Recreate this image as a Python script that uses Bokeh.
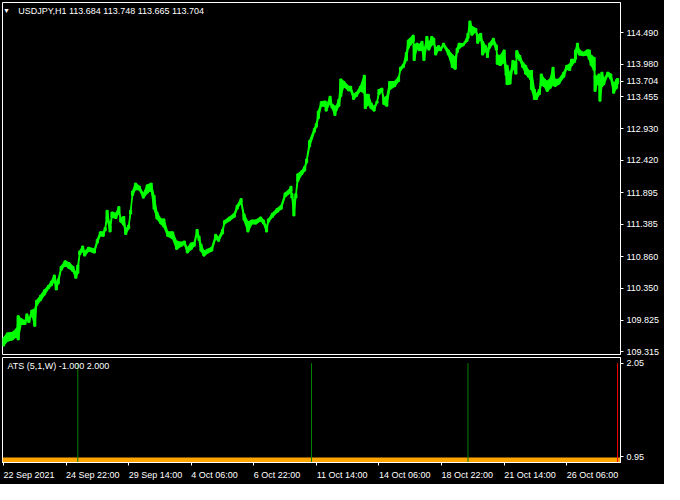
from bokeh.plotting import figure
from bokeh.layouts import column
from bokeh.models import FixedTicker, Label, ColumnDataSource, Range1d, LinearAxis
from bokeh.embed import file_html
from bokeh.resources import INLINE

# ---------------- data ----------------
symbol_title = "USDJPY,H1  113.684 113.748 113.665 113.704"
last_close = 113.704
indicator_title = "ATS (5,1,W) -1.000 2.000"

bar = [0, 4, 9, 14, 15, 18, 22, 24, 26, 29, 32, 34, 38, 42, 46, 49, 52, 54, 56, 59,
       63, 67, 71, 74, 76, 78, 81, 83, 87, 93, 96, 99, 102, 104, 106, 109, 111, 115, 118, 120,
       123, 125, 128, 130, 132, 135, 139, 143, 147, 151, 154, 157, 161, 164, 168, 173, 177, 182, 185, 188,
       192, 195, 198, 200, 202, 205, 209, 213, 217, 220, 224, 226, 231, 236, 239, 243, 246, 250, 254, 258,
       263, 266, 269, 271, 275, 280, 284, 288, 292, 294, 295, 297, 299, 301, 305, 308, 310, 313, 318, 320,
       322, 325, 329, 330, 334, 336, 339, 340, 343, 345, 348, 353, 355, 358, 361, 365, 369, 370, 373, 376,
       379, 382, 384, 387, 389, 392, 395, 400, 404, 406, 409, 412, 414, 416, 419, 420, 423, 425, 428, 430,
       433, 435, 438, 440, 442, 445, 447, 450, 455, 459, 462, 464, 466, 470, 474, 475, 477, 479, 483, 485,
       488, 490, 493, 495, 497, 501, 504, 505, 508, 512, 514, 515, 518, 521, 524, 525, 528, 531, 534, 537,
       539, 540, 543, 545, 548, 550, 553, 556, 559, 562, 564, 568, 573, 576, 579, 581, 584, 585, 587, 589,
       593, 597, 599, 601, 604, 605, 607, 609, 610, 612, 614, 618, 621, 624, 627, 628]

high = [109.54, 109.62, 109.63, 109.70, 109.90, 109.85, 109.82, 109.93, 109.85, 109.99,
        110.01, 110.15, 110.23, 110.32, 110.39, 110.46, 110.56, 110.43, 110.50, 110.70,
        110.79, 110.76, 110.70, 110.59, 110.72, 110.95, 111.03, 110.94, 111.01, 110.98,
        111.14, 111.26, 111.26, 111.33, 111.61, 111.36, 111.58, 111.56, 111.67, 111.48,
        111.51, 111.30, 111.37, 111.61, 111.92, 112.05, 112.00, 111.88, 112.02, 112.05,
        111.85, 111.58, 111.47, 111.47, 111.26, 111.26, 111.11, 111.09, 111.11, 111.00,
        111.08, 111.09, 111.30, 111.19, 111.06, 110.95, 110.98, 111.01, 111.22, 111.17,
        111.30, 111.44, 111.50, 111.56, 111.69, 111.80, 111.55, 111.42, 111.45, 111.45,
        111.50, 111.45, 111.34, 111.47, 111.56, 111.64, 111.69, 111.89, 111.94, 112.00,
        111.88, 111.74, 111.88, 112.20, 112.25, 112.32, 112.44, 112.74, 112.94, 113.02,
        113.22, 113.37, 113.38, 113.29, 113.46, 113.33, 113.30, 113.29, 113.41, 113.74,
        113.70, 113.62, 113.62, 113.49, 113.52, 113.62, 113.80, 113.49, 113.49, 113.35,
        113.29, 113.38, 113.57, 113.59, 113.43, 113.46, 113.70, 113.70, 113.77, 113.93,
        113.98, 114.17, 114.37, 114.40, 114.45, 114.29, 114.32, 114.29, 114.35, 114.20,
        114.43, 114.32, 114.43, 114.40, 114.24, 114.28, 114.24, 114.32, 114.21, 114.13,
        114.09, 114.24, 114.32, 114.31, 114.40, 114.48, 114.68, 114.59, 114.56, 114.45,
        114.48, 114.35, 114.28, 114.21, 114.32, 114.40, 114.29, 114.13, 114.12, 114.21,
        113.96, 113.96, 113.82, 114.04, 114.01, 114.20, 114.12, 114.01, 113.96, 113.88,
        113.82, 113.88, 113.57, 113.49, 113.57, 113.82, 113.74, 113.70, 113.74, 113.93,
        113.73, 113.74, 113.85, 113.96, 113.98, 114.06, 114.06, 114.21, 114.32, 114.21,
        114.17, 114.21, 114.21, 114.12, 114.09, 113.80, 113.77, 113.82, 113.65, 113.85,
        113.74, 113.85, 113.82, 113.66, 113.73, 113.748]

low = [109.41, 109.49, 109.51, 109.57, 109.51, 109.76, 109.76, 109.85, 109.79, 109.92,
       109.73, 110.07, 110.15, 110.24, 110.34, 110.39, 110.46, 110.32, 110.42, 110.64,
       110.72, 110.67, 110.62, 110.51, 110.59, 110.89, 110.95, 110.87, 110.95, 110.92,
       111.08, 111.20, 111.19, 111.28, 111.47, 111.26, 111.50, 111.48, 111.58, 111.42,
       111.37, 111.22, 111.31, 111.55, 111.85, 111.95, 111.94, 111.81, 111.89, 111.94,
       111.63, 111.47, 111.39, 111.34, 111.19, 111.15, 110.98, 111.03, 111.06, 110.92,
       110.98, 111.03, 111.23, 111.12, 110.95, 110.87, 110.92, 110.95, 111.15, 111.11,
       111.23, 111.39, 111.44, 111.50, 111.63, 111.74, 111.45, 111.26, 111.39, 111.39,
       111.44, 111.39, 111.26, 111.42, 111.50, 111.58, 111.63, 111.83, 111.88, 111.92,
       111.81, 111.52, 111.81, 112.08, 112.19, 112.25, 112.38, 112.64, 112.88, 112.96,
       113.10, 113.30, 113.30, 113.22, 113.35, 113.27, 113.15, 113.22, 113.30, 113.46,
       113.62, 113.55, 113.55, 113.41, 113.46, 113.55, 113.51, 113.26, 113.33, 113.26,
       113.22, 113.35, 113.49, 113.54, 113.33, 113.30, 113.57, 113.62, 113.70, 113.88,
       113.93, 114.04, 114.24, 114.29, 114.35, 114.04, 114.24, 114.20, 114.21, 114.04,
       114.29, 114.21, 114.29, 114.32, 114.13, 114.21, 114.20, 114.28, 114.13, 113.93,
       113.90, 114.17, 114.24, 114.28, 114.35, 114.40, 114.56, 114.45, 114.51, 114.32,
       114.40, 114.13, 114.20, 114.09, 114.24, 114.32, 114.21, 113.98, 113.96, 114.01,
       113.80, 113.65, 113.66, 113.93, 113.82, 114.09, 114.04, 113.93, 113.82, 113.77,
       113.73, 113.57, 113.41, 113.41, 113.49, 113.65, 113.62, 113.54, 113.59, 113.65,
       113.62, 113.66, 113.77, 113.90, 113.88, 113.96, 114.01, 114.06, 114.21, 114.13,
       114.12, 114.13, 114.06, 113.96, 113.88, 113.54, 113.65, 113.66, 113.38, 113.62,
       113.65, 113.80, 113.74, 113.51, 113.59, 113.665]

price_ticks = [114.490, 113.980, 113.455, 112.930, 112.420, 111.895,
               111.385, 110.860, 110.350, 109.825, 109.315]
price_tick_labels = ["114.490", "113.980", "113.455", "112.930", "112.420", "111.895",
                     "111.385", "110.860", "110.350", "109.825", "109.315"]

time_tick_bars = [0, 64, 128, 192, 256, 320, 384, 448, 512, 576]
time_tick_labels = ["22 Sep 2021", "24 Sep 22:00", "29 Sep 14:00", "4 Oct 06:00",
                    "6 Oct 22:00", "11 Oct 14:00", "14 Oct 06:00", "18 Oct 22:00",
                    "21 Oct 14:00", "26 Oct 06:00"]

ats_ticks = [0.95, 2.05]
ats_tick_labels = ["0.95", "2.05"]
buy_signal_bars = [76, 315, 475]
sell_signal_bars = [628]
signal_level = 2.05
ats_band_bars = [-1, 631]
ats_band_top = [0.94, 0.94]

# ---------------- style ----------------
LIME = "#00ff00"
FONT = "Liberation Sans"
FS = "9px"
FSPX = 9
X_START, X_END = -1, 631
Y_START, Y_END = 109.272, 114.981
A_START, A_END = 0.882, 2.118
FW, FH1, FH2 = 618, 352, 105
BORDER_L, BORDER_T = 2, 2

common = dict(output_backend="svg", toolbar_location=None,
              background_fill_color="black", border_fill_color="black",
              min_border_left=BORDER_L, min_border_right=44)


def style_axis(ax, ticks, labels, tick_out=3):
    ax.ticker = FixedTicker(ticks=ticks)
    ax.major_label_overrides = {t: l for t, l in zip(ticks, labels)}
    ax.axis_line_color = "white"
    ax.major_tick_line_color = "white"
    ax.major_tick_in = 0
    ax.major_tick_out = tick_out
    ax.minor_tick_line_color = None
    ax.major_label_text_color = "white"
    ax.major_label_text_font = FONT
    ax.major_label_text_font_size = FS
    ax.major_label_standoff = 3


# ---------------- main price panel ----------------
p = figure(frame_width=FW, frame_height=FH1,
           x_range=Range1d(X_START, X_END), y_range=Range1d(Y_START, Y_END),
           y_axis_location="right", x_axis_location=None,
           min_border_top=BORDER_T, min_border_bottom=3, **common)
p.outline_line_color = "white"
p.xgrid.visible = False
p.ygrid.visible = False

src = ColumnDataSource(dict(bar=bar, high=high, low=low))
p.varea(x="bar", y1="low", y2="high", source=src, fill_color=LIME)
p.vbar(x="bar", top="high", bottom="low", width=2.2, source=src,
       fill_color=LIME, line_color=LIME, line_width=1)
p.line(x="bar", y="high", source=src, line_color=LIME, line_width=1.2)
p.line(x="bar", y="low", source=src, line_color=LIME, line_width=1.2)

# price scale, with the current price shown on it as well
style_axis(p.yaxis[0], price_ticks + [last_close],
           price_tick_labels + [f"{last_close:.3f}"])

py = (Y_END - Y_START) / FH1
p.add_layout(Label(x=3, y=Y_END - 8 * py, text="\u25bc", text_color="white",
                   text_font=FONT, text_font_size="7px", text_baseline="middle",
                   text_align="center"))
p.add_layout(Label(x=15, y=Y_END - 8 * py, text=symbol_title, text_color="white",
                   text_font=FONT, text_font_size=FS, text_baseline="middle"))

# ---------------- ATS indicator panel ----------------
q = figure(frame_width=FW, frame_height=FH2,
           x_range=p.x_range, y_range=Range1d(A_START, A_END),
           y_axis_location="right", x_axis_location="below",
           min_border_top=0, min_border_bottom=22, **common)
q.outline_line_color = "white"
q.xgrid.visible = False
q.ygrid.visible = False

q.varea(x=ats_band_bars, y1=[A_START - 0.1] * len(ats_band_bars), y2=ats_band_top,
        fill_color="#ffa500")
q.segment(x0=buy_signal_bars, y0=[A_START - 0.1] * len(buy_signal_bars),
          x1=buy_signal_bars, y1=[signal_level] * len(buy_signal_bars),
          line_color="#008000", line_width=1)
q.segment(x0=sell_signal_bars, y0=[A_START - 0.1] * len(sell_signal_bars),
          x1=sell_signal_bars, y1=[signal_level] * len(sell_signal_bars),
          line_color="#ff0000", line_width=1)

style_axis(q.yaxis[0], ats_ticks, ats_tick_labels)

# tick marks only on the first time axis
xa = q.xaxis[0]
style_axis(xa, time_tick_bars, ["" for _ in time_tick_bars])
xa.major_label_text_font_size = "0px"
xa.major_label_standoff = 0

# labels, left-aligned to their tick: centre them half a label width to the right
CW = {c: 0.556 for c in "0123456789"}
CW.update({" ": 0.278, ":": 0.278, "S": 0.667, "e": 0.556, "p": 0.556, "O": 0.778,
           "c": 0.5, "t": 0.278})
bars_per_px = (X_END - X_START) / FW
label_pos = [b + 0.5 * sum(CW.get(ch, 0.556) for ch in s) * FSPX * bars_per_px
             for b, s in zip(time_tick_bars, time_tick_labels)]
la = LinearAxis()
style_axis(la, label_pos, time_tick_labels, tick_out=0)
la.axis_line_color = None
la.major_tick_line_color = None
la.major_label_standoff = 4
q.add_layout(la, "below")

qy = (A_END - A_START) / FH2
q.add_layout(Label(x=4, y=A_END - 8 * qy, text=indicator_title, text_color="white",
                   text_font=FONT, text_font_size=FS, text_baseline="middle"))

layout = column(p, q, spacing=0, styles={"background-color": "black"})
open("out.html", "w").write(file_html(layout, INLINE))
